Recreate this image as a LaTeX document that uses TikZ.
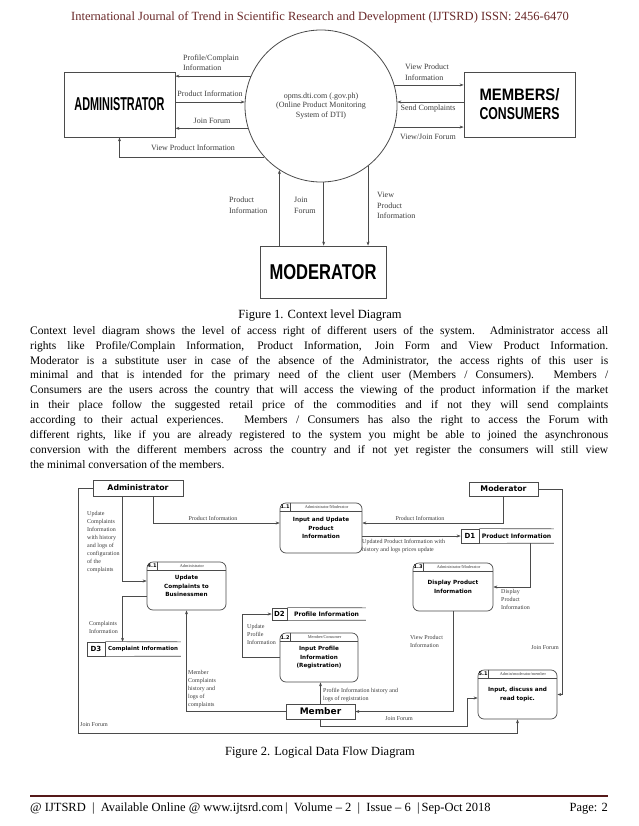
\documentclass[tikz,border=0pt]{standalone}
\usepackage{fontspec}
\setmainfont{Liberation Serif}
\newfontfamily\arialfont{Liberation Sans}
\newfontfamily\blackfont{DejaVu Sans}
\usepackage{graphicx}
\usetikzlibrary{
    positioning,
    arrows.meta
}
\definecolor{headRed}{RGB}{105, 40, 40}
\definecolor{ruleRed}{RGB}{85, 25, 25}
\definecolor{lineGray}{RGB}{75, 75, 75}
\definecolor{textGray}{RGB}{60, 60, 60}

\tikzset{
    bigent/.style={draw=lineGray, line width=0.8pt, inner sep=0pt, align=center},
    labone/.style={font=\fontsize{8}{10.5}\selectfont, text=textGray, inner sep=0pt, align=left},
    labtwo/.style={font=\fontsize{6}{8}\selectfont, text=textGray, inner sep=0pt, align=left},
    flowone/.style={->, draw=lineGray, line width=0.6pt},
    flowtwo/.style={->, draw=lineGray, line width=0.6pt},
    ent/.style={draw=lineGray, line width=0.7pt, inner sep=0pt, font=\blackfont\bfseries\fontsize{7.8}{9}\selectfont},
    proc/.style={draw=lineGray, line width=0.7pt, rounded corners=6pt, inner sep=0pt, align=center,
        font=\blackfont\bfseries\fontsize{5.7}{8.3}\selectfont},
    procline/.style={draw=lineGray, line width=0.6pt},
    procnum/.style={inner sep=0pt, font=\blackfont\bfseries\fontsize{5}{6}\selectfont},
    procrole/.style={inner sep=0pt, text=textGray, font=\fontsize{4.3}{5}\selectfont},
    storeid/.style={draw=lineGray, line width=0.7pt, inner sep=0pt, font=\blackfont\bfseries\fontsize{7}{8}\selectfont},
    storetxt/.style={inner sep=0pt, font=\blackfont\bfseries\fontsize{6.1}{8}\selectfont},
    pagetext/.style={inner sep=0pt, font=\fontsize{12.5}{14}\selectfont}
}

\begin{document}
\begin{tikzpicture}[x=1pt, y=-1pt, >={Stealth[length=4pt, width=3pt]}]
    \fill[white] (0,0) rectangle (638,826);
    \useasboundingbox (0,0) rectangle (638,826);

    % page head
    \node[pagetext, text=headRed] (head) at (320,17)
        {International Journal of Trend in Scientific Research and Development (IJTSRD) ISSN: 2456-6470};

    % Figure 1: context level
    \node[draw=lineGray, line width=0.8pt, circle, minimum size=152pt, inner sep=0pt, align=center,
        font=\fontsize{8}{9.5}\selectfont, text=textGray] (sys) at (321,106)
        {opms.dti.com (.gov.ph)\\(Online Product Monitoring\\System of DTI)};
    \node[bigent, minimum width=111pt, minimum height=65pt] (admin) at (119.5,104.5)
        {\resizebox{90pt}{13pt}{\arialfont\bfseries ADMINISTRATOR}};
    \node[bigent, minimum width=111pt, minimum height=65pt, font=\fontsize{12}{19}\selectfont] (members) at (519.5,104.5)
        {\resizebox{80pt}{12pt}{\arialfont\bfseries MEMBERS/}\\\resizebox{80pt}{12pt}{\arialfont\bfseries CONSUMERS}};
    \node[bigent, minimum width=126pt, minimum height=52pt] (moder) at (323,272)
        {\resizebox{107pt}{15pt}{\arialfont\bfseries MODERATOR}};

    \draw[flowone] (sys.157) -- (sys.157 -| admin.east);
    \draw[flowone] (admin.east |- sys.177) -- (sys.177);
    \draw[flowone] (sys.197) -- (sys.197 -| admin.east);
    \draw[flowone] (sys.222) -| (admin.south);
    \draw[flowone] (sys.16) -- (sys.16 -| members.west);
    \draw[flowone] (members.west |- sys.3) -- (sys.3);
    \draw[flowone] (sys.344) -- (sys.344 -| members.west);
    \draw[flowone] (moder.north -| sys.237) -- (sys.237);
    \draw[flowone] (sys.272) -- (sys.272 |- moder.north);
    \draw[flowone] (sys.308) -- (sys.308 |- moder.north);

    \node[labone, anchor=west] (lprof) at (183,62.5) {Profile/Complain\\Information};
    \node[labone] (lprod) at (210,94) {Product Information};
    \node[labone] (ljoin) at (212,121) {Join Forum};
    \node[labone] (lview) at (193,148) {View Product Information};
    \node[labone, anchor=west] (rview) at (405,72.5) {View Product\\Information};
    \node[labone] (rsend) at (428,109) {Send Complaints};
    \node[labone] (rjoin) at (428,137) {View/Join Forum};
    \node[labone, anchor=west] (bprod) at (229,205.5) {Product\\Information};
    \node[labone, anchor=west] (bjoin) at (294,205.5) {Join\\Forum};
    \node[labone, anchor=west] (bview) at (377,205.5) {View\\Product\\Information};

    \node[pagetext] (capone) at (320,316) {Figure 1. Context level Diagram};

    % body text
    \node[anchor=north west, inner sep=0pt, text width=578pt, align=justify,
        font=\fontsize{11.5}{14.9}\selectfont] (para) at (30,326)
        {Context level diagram shows the level of access right of different users of the system. Administrator access all\linebreak
        rights like Profile/Complain Information, Product Information, Join Form and View Product Information.\linebreak
        Moderator is a substitute user in case of the absence of the Administrator, the access rights of this user is\linebreak
        minimal and that is intended for the primary need of the client user (Members / Consumers). Members /\linebreak
        Consumers are the users across the country that will access the viewing of the product information if the market\linebreak
        in their place follow the suggested retail price of the commodities and if not they will send complaints\linebreak
        according to their actual experiences. Members / Consumers has also the right to access the Forum with\linebreak
        different rights, like if you are already registered to the system you might be able to joined the asynchronous\linebreak
        conversion with the different members across the country and if not yet register the consumers will still view\linebreak
        the minimal conversation of the members.};

    % Figure 2: logical data flow
    \node[ent, minimum width=90pt, minimum height=16pt] (admintwo) at (138,488) {Administrator};
    \node[ent, minimum width=69pt, minimum height=14pt] (modtwo) at (503.5,489) {Moderator};
    \node[ent, minimum width=69pt, minimum height=15pt, font=\blackfont\bfseries\fontsize{9}{10}\selectfont] (member) at (320.5,711.5) {Member};

    \node[proc, minimum width=82pt, minimum height=50pt] (p11) at (321,528) {Input and Update\\Product\\Information};
    \draw[procline] ([yshift=-9pt]p11.north west) -- ([yshift=-9pt]p11.north east);
    \draw[procline] ([xshift=11pt]p11.north west) -- ([xshift=11pt,yshift=-9pt]p11.north west);
    \node[procnum] (p11n) at ([xshift=5.5pt,yshift=-4.5pt]p11.north west) {1.1};
    \node[procrole] (p11r) at ([xshift=5.5pt,yshift=-4.5pt]p11.north) {Administrator/Moderator};

    \node[proc, minimum width=79pt, minimum height=48pt] (p41) at (186.5,586) {Update\\Complaints to\\Businessmen};
    \draw[procline] ([yshift=-9pt]p41.north west) -- ([yshift=-9pt]p41.north east);
    \draw[procline] ([xshift=11pt]p41.north west) -- ([xshift=11pt,yshift=-9pt]p41.north west);
    \node[procnum] (p41n) at ([xshift=5.5pt,yshift=-4.5pt]p41.north west) {4.1};
    \node[procrole] (p41r) at ([xshift=5.5pt,yshift=-4.5pt]p41.north) {Administrator};

    \node[proc, minimum width=80pt, minimum height=48pt] (p13) at (453,587) {Display Product\\Information};
    \draw[procline] ([yshift=-9pt]p13.north west) -- ([yshift=-9pt]p13.north east);
    \draw[procline] ([xshift=11pt]p13.north west) -- ([xshift=11pt,yshift=-9pt]p13.north west);
    \node[procnum] (p13n) at ([xshift=5.5pt,yshift=-4.5pt]p13.north west) {1.3};
    \node[procrole] (p13r) at ([xshift=5.5pt,yshift=-4.5pt]p13.north) {Administrator/Moderator};

    \node[proc, minimum width=78pt, minimum height=49pt] (p12) at (319,657.5) {Input Profile\\Information\\(Registration)};
    \draw[procline] ([yshift=-9pt]p12.north west) -- ([yshift=-9pt]p12.north east);
    \draw[procline] ([xshift=11pt]p12.north west) -- ([xshift=11pt,yshift=-9pt]p12.north west);
    \node[procnum] (p12n) at ([xshift=5.5pt,yshift=-4.5pt]p12.north west) {1.2};
    \node[procrole] (p12r) at ([xshift=5.5pt,yshift=-4.5pt]p12.north) {Member/Consumer};

    \node[proc, minimum width=79pt, minimum height=49pt] (p51) at (517.5,694.5) {Input, discuss and\\read topic.};
    \draw[procline] ([yshift=-9pt]p51.north west) -- ([yshift=-9pt]p51.north east);
    \draw[procline] ([xshift=11pt]p51.north west) -- ([xshift=11pt,yshift=-9pt]p51.north west);
    \node[procnum] (p51n) at ([xshift=5.5pt,yshift=-4.5pt]p51.north west) {5.1};
    \node[procrole] (p51r) at ([xshift=5.5pt,yshift=-4.5pt]p51.north) {Admin/moderator/member};

    % data stores
    \node[storeid, minimum width=18pt, minimum height=14pt] (d1) at (470,536) {D1};
    \node[storetxt, minimum width=74pt, minimum height=14pt, anchor=west] (d1t) at (d1.east) {Product Information};
    \draw[procline] (d1.north east) -- (d1t.north east) (d1.south east) -- (d1t.south east);

    \node[storeid, minimum width=15pt, minimum height=12pt] (d2) at (279.5,614) {D2};
    \node[storetxt, minimum width=78pt, minimum height=12pt, anchor=west] (d2t) at (d2.east) {Profile Information};
    \draw[procline] (d2.north east) -- (d2t.north east) (d2.south east) -- (d2t.south east);

    \node[storeid, minimum width=18pt, minimum height=14pt] (d3) at (96,649) {D3};
    \node[storetxt, minimum width=75pt, minimum height=14pt, anchor=west, font=\blackfont\bfseries\fontsize{5.5}{7}\selectfont] (d3t) at (d3.east) {Complaint Information};
    \draw[procline] (d3.north east) -- (d3t.north east) (d3.south east) -- (d3t.south east);

    % flows
    \draw[flowtwo] ([xshift=15pt]admintwo.south) |- ([yshift=5pt]p11.west);
    \draw[flowtwo] (modtwo.south) |- ([yshift=5pt]p11.east);
    \draw[flowtwo] (p11.east |- d1.west) -- (d1.west);
    \draw[flowtwo] ([xshift=14pt]d1t.south) |- (p13.east);
    \draw[flowtwo] (p13.south) |- (member.east);
    \draw[flowtwo] (member.north) -- (member.north |- p12.south);
    \draw[flowtwo] (p12.west) -| ([xshift=-29pt]d2.west) -- (d2.west);
    \draw[flowtwo] (member.west) -| (p41.south);
    \draw[flowtwo] ([yshift=-10pt]p41.west) -| ([xshift=-20.5pt]d3t.north);
    \draw[flowtwo] ([xshift=-16pt]admintwo.south) |- ([yshift=5pt]p41.west);

    \coordinate (jfa) at (78,733);
    \coordinate (jfm) at (562,694.5);
    \coordinate (jfu) at (467,726);
    \draw[flowtwo] (admintwo.west) -| (jfa) -| (p51.south);
    \draw[flowtwo] (modtwo.east) -| (jfm) -- (p51.east);
    \draw[flowtwo] (member.south) |- (jfu) |- ([yshift=-3.5pt]p51.west);

    \node[labtwo] (lpa) at (213,518) {Product Information};
    \node[labtwo] (lpm) at (420,518) {Product Information};
    \node[labtwo, anchor=west] (lupd) at (362,546) {Updated Product Information with\\history and logs prices update};
    \node[labtwo, anchor=west] (ldisp) at (501,599) {Display\\Product\\Information};
    \node[labtwo, anchor=west] (lviewm) at (410,641) {View Product\\Information};
    \node[labtwo, anchor=west] (lprofh) at (323,695) {Profile Information history and\\logs of registration};
    \node[labtwo, anchor=west] (lupdp) at (247,634) {Update\\Profile\\Information};
    \node[labtwo, anchor=west] (lmemc) at (188,689.5) {Member\\Complaints\\history and\\logs of\\complaints};
    \node[labtwo, anchor=west] (lcompi) at (89,627) {Complaints\\Information};
    \node[labtwo, anchor=west] (lupdc) at (87,542.5) {Update\\Complaints\\Information\\with history\\and logs of\\configuration\\of the\\complaints};
    \node[labtwo, anchor=west] (ljfa) at (80,725) {Join Forum};
    \node[labtwo] (ljfm) at (545,648) {Join Forum};
    \node[labtwo] (ljfu) at (399,719) {Join Forum};

    \node[pagetext] (captwo) at (320,753) {Figure 2. Logical Data Flow Diagram};

    % page foot
    \coordinate (rulel) at (30,796);
    \coordinate (ruler) at (608,796);
    \draw[ruleRed, line width=2.6pt] (rulel) -- (ruler);
    \node[pagetext, anchor=west] (foot) at (30,809)
        {@ IJTSRD\enspace|\enspace Available Online @ www.ijtsrd.com\,|\enspace Volume -- 2\enspace|\enspace Issue -- 6\enspace|\,Sep-Oct 2018};
    \node[pagetext, anchor=east] (page) at (608,809) {Page: 2};
\end{tikzpicture}
\end{document}
